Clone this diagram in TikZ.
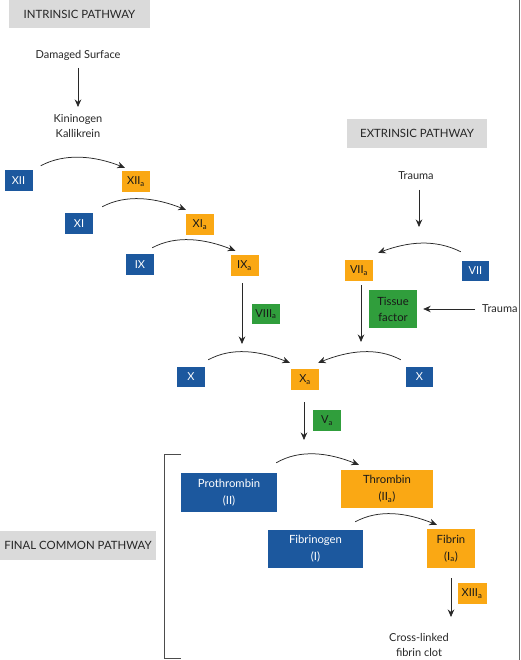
\documentclass[tikz,border=0pt]{standalone}
\usepackage{fontspec}
\setmainfont{Lato}
\usetikzlibrary{arrows.meta}
\definecolor{cblue}{RGB}{28,88,158}
\definecolor{corange}{RGB}{250,168,20}
\definecolor{cgreen}{RGB}{48,158,60}
\definecolor{cgray}{RGB}{218,218,218}
\definecolor{cline}{RGB}{40,40,40}
\begin{document}
\begin{tikzpicture}[x=1pt,y=-1pt,
  every node/.style={font=\fontsize{11}{13}\selectfont, inner sep=0pt},
  bluebox/.style={fill=cblue, text=white, minimum width=28pt, minimum height=21pt, align=center},
  orangebox/.style={fill=corange, text=black!90, minimum width=28pt, minimum height=21pt, align=center},
  greenbox/.style={fill=cgreen, text=black!90, minimum width=28pt, minimum height=21pt, align=center},
  twoline/.style={font=\fontsize{11.3}{17}\selectfont},
  graybox/.style={fill=cgray, text=black!85, minimum height=29pt, font=\fontsize{11.4}{13}\selectfont},
  plain/.style={text=black!85, align=center, font=\fontsize{11}{15}\selectfont},
  arr/.style={draw=cline, line width=0.75pt, -{Stealth[length=7.5pt,width=6.5pt]}},
  brk/.style={draw=black!70, line width=0.7pt}]
\useasboundingbox (0,0) rectangle (520,660);
\fill[white] (0,0) rectangle (520,660);
\draw[draw=black!60, line width=0.8pt] (519.5,0) -- (519.5,660);

% labels
\node[graybox, minimum width=141pt] (intr) at (79.5,14) {INTRINSIC PATHWAY};
\node[graybox, minimum width=140pt] (ext) at (417,133.5) {EXTRINSIC PATHWAY};
\node[graybox, minimum width=156pt] (final) at (78,545.5) {FINAL COMMON PATHWAY};

% intrinsic
\node[plain] (dmg) at (78,55) {Damaged Surface};
\node[plain] (kin) at (78,126.5) {Kininogen\\Kallikrein};
\node[bluebox] (xii) at (18.5,180.5) {XII};
\node[orangebox] (xiia) at (136,181.5) {XII\textsubscript{a}};
\node[bluebox] (xi) at (79,223.5) {XI};
\node[orangebox] (xia) at (200,224.5) {XI\textsubscript{a}};
\node[bluebox] (ix) at (140,264.5) {IX};
\node[orangebox] (ixa) at (244.5,265.5) {IX\textsubscript{a}};
\node[greenbox, minimum height=20pt] (viiia) at (266,314) {VIII\textsubscript{a}};

% extrinsic
\node[plain] (tr1) at (416,176) {Trauma};
\node[orangebox] (viia) at (359,270.5) {VII\textsubscript{a}};
\node[bluebox, minimum width=27pt, minimum height=20pt] (vii) at (475.5,271) {VII};
\node[greenbox, minimum width=48pt, minimum height=38pt, font=\fontsize{11.3}{16}\selectfont] (tf) at (393,309) {Tissue\\factor};
\node[plain, anchor=west] (tr2) at (482,309) {Trauma};

% X level
\node[bluebox, minimum height=20pt] (xl) at (191,377) {X};
\node[orangebox] (xa) at (305,379.5) {X\textsubscript{a}};
\node[bluebox, minimum width=27pt, minimum height=20pt] (xr) at (419.5,377) {X};
\node[greenbox] (va) at (327,420.5) {V\textsubscript{a}};

% common
\node[bluebox, twoline, minimum width=96pt, minimum height=39pt] (pro) at (229,492.5) {Prothrombin\\(II)};
\node[orangebox, twoline, minimum width=92pt, minimum height=38pt] (thr) at (387,489) {Thrombin\\(II\textsubscript{a})};
\node[bluebox, twoline, minimum width=95pt, minimum height=38pt] (fgn) at (315.5,549) {Fibrinogen\\(I)};
\node[orangebox, twoline, minimum width=48pt, minimum height=39pt] (fbn) at (451,548.5) {Fibrin\\(I\textsubscript{a})};
\node[orangebox, minimum width=29pt] (xiiia) at (472,593.5) {XIII\textsubscript{a}};
\node[plain] (clot) at (419,644.5) {Cross-linked\\fibrin clot};

% bracket
\draw[brk] (181,454) -- (164,454) -- (164,658) -- (181,658);

% free ends
\coordinate (e0) at (78,107);
\coordinate (e1) at (419,227);
\coordinate (e2) at (242,344);
\coordinate (e3) at (361,342);
\coordinate (e4) at (304,440);
\coordinate (e5) at (451,617);

% straight arrows
\draw[arr] ([yshift=-13pt]dmg.center) -- (e0);
\draw[arr] ([xshift=3pt,yshift=-14pt]tr1.center) -- (e1);
\draw[arr] ([xshift=-2.5pt,yshift=-7pt]ixa.south) -- (e2);
\draw[arr] ([xshift=2pt,yshift=-4pt]viia.south) -- (e3);
\draw[arr] ([xshift=-7pt]tr2.west) -- ([xshift=6pt]tf.east);
\draw[arr] ([xshift=-1pt,yshift=-12pt]xa.south) -- (e4);
\draw[arr] ([yshift=-10pt]fbn.south) -- (e5);

% arcs
\draw[arr] ([xshift=8pt,yshift=4pt]xii.north east) .. controls +(24,-13) and +(-30,-12) .. ([xshift=3pt,yshift=3pt]xiia.north west);
\draw[arr] ([xshift=9pt,yshift=6pt]xi.north east) .. controls +(24,-13) and +(-30,-12) .. ([xshift=0pt,yshift=4pt]xia.north west);
\draw[arr] ([xshift=-2pt,yshift=6pt]ix.north east) .. controls +(24,-13) and +(-30,-12) .. ([xshift=5pt,yshift=4pt]ixa.north west);
\draw[arr] ([xshift=-1pt,yshift=9pt]vii.north west) .. controls +(-26,-13) and +(30,-11) .. ([xshift=5pt,yshift=7pt]viia.north east);
\draw[arr] ([xshift=3pt,yshift=7pt]xl.north east) .. controls +(24,-13) and +(-30,-12) .. ([xshift=-1pt,yshift=6pt]xa.north west);
\draw[arr] ([xshift=-5pt,yshift=7pt]xr.north west) .. controls +(-24,-13) and +(30,-12) .. ([xshift=-1pt,yshift=6pt]xa.north east);
\draw[arr] ([xshift=-1pt,yshift=10pt]pro.north east) .. controls +(24,-14) and +(-30,-12) .. ([xshift=18pt,yshift=5pt]thr.north west);
\draw[arr] ([xshift=-8pt,yshift=8pt]fgn.north east) .. controls +(24,-13) and +(-30,-12) .. ([xshift=10pt,yshift=4pt]fbn.north west);
\end{tikzpicture}
\end{document}
